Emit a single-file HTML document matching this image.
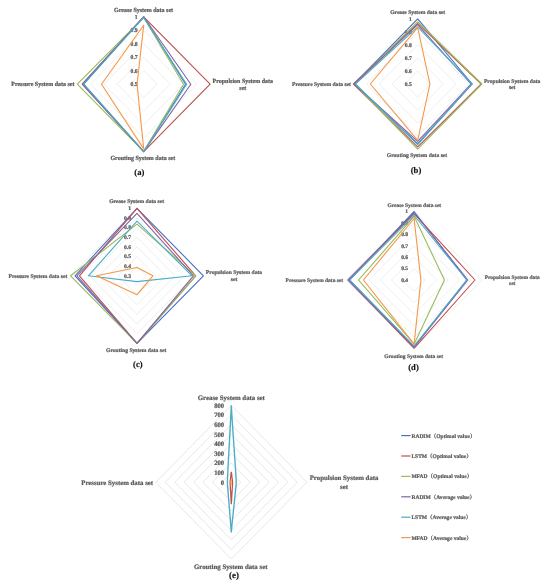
<!DOCTYPE html>
<html lang="en"><head><meta charset="utf-8"><title>Radar charts</title>
<style>
html,body{margin:0;padding:0;background:#fff;}
body{width:550px;height:585px;overflow:hidden;}
svg{display:block;}
svg text{text-rendering:geometricPrecision;stroke:#595959;stroke-width:0.22px;paint-order:stroke;font-family:"Liberation Serif","Noto Serif CJK SC",serif;font-weight:bold;}
</style></head><body>
<svg width="550" height="585" viewBox="0 0 550 585">
<rect width="550" height="585" fill="#fff"/>
<g id="chart-a">
<path d="M143.7 70.72L156.98 84.2L143.7 97.68L130.42 84.2ZM143.7 57.24L170.26 84.2L143.7 111.16L117.14 84.2ZM143.7 43.76L183.54 84.2L143.7 124.64L103.86 84.2ZM143.7 30.28L196.82 84.2L143.7 138.12L90.58 84.2ZM143.7 16.8L210.1 84.2L143.7 151.6L77.3 84.2Z" fill="none" stroke="#e3e3e3" stroke-width="0.6"/>
<text transform="translate(137.7 86.1) scale(1 1.06)" font-size="5.7" text-anchor="end" fill="#595959">0.5</text>
<text transform="translate(137.7 72.62) scale(1 1.06)" font-size="5.7" text-anchor="end" fill="#595959">0.6</text>
<text transform="translate(137.7 59.14) scale(1 1.06)" font-size="5.7" text-anchor="end" fill="#595959">0.7</text>
<text transform="translate(137.7 45.66) scale(1 1.06)" font-size="5.7" text-anchor="end" fill="#595959">0.8</text>
<text transform="translate(137.7 32.18) scale(1 1.06)" font-size="5.7" text-anchor="end" fill="#595959">0.9</text>
<text transform="translate(137.7 18.7) scale(1 1.06)" font-size="5.7" text-anchor="end" fill="#595959">1</text>
<path d="M143.7 16.8L185.53 84.2L143.7 151.6L83.61 84.2Z" fill="none" stroke="#4472C4" stroke-width="1.1" stroke-linejoin="round"/>
<path d="M143.7 16.8L210.1 84.2L143.7 151.6L82.28 84.2Z" fill="none" stroke="#C0504D" stroke-width="1.1" stroke-linejoin="round"/>
<path d="M143.7 17.47L183.54 84.2L143.7 151.6L77.3 84.2Z" fill="none" stroke="#9BBB59" stroke-width="1.1" stroke-linejoin="round"/>
<path d="M143.7 16.8L190.84 84.2L143.7 151.6L82.28 84.2Z" fill="none" stroke="#8064A2" stroke-width="1.1" stroke-linejoin="round"/>
<path d="M143.7 17.47L186.66 84.2L143.7 151.6L83.61 84.2Z" fill="none" stroke="#4BACC6" stroke-width="1.1" stroke-linejoin="round"/>
<path d="M143.7 25.22L137.06 84.2L143.7 148.9L101.54 84.2Z" fill="none" stroke="#F79646" stroke-width="1.1" stroke-linejoin="round"/>
<text transform="translate(143.55 12.4) scale(1 1.06)" font-size="6" text-anchor="middle" fill="#595959">Grease System data set</text>
<text transform="translate(74.5 86.4) scale(1 1.06)" font-size="6" text-anchor="end" fill="#595959">Pressure System data set</text>
<text transform="translate(242.8 82.6) scale(1 1.06)" font-size="6" text-anchor="middle" fill="#595959">Propulsion System data</text>
<text transform="translate(242.8 89.8) scale(1 1.06)" font-size="6" text-anchor="middle" fill="#595959">set</text>
<text transform="translate(142.8 159.9) scale(1 1.06)" font-size="6" text-anchor="middle" fill="#595959">Grouting System data set</text>
<text x="139.3" y="174.8" font-size="8.6" text-anchor="middle" fill="#111" stroke="#111">(a)</text>
</g>
<g id="chart-b">
<path d="M417.7 70.96L430.54 84L417.7 97.04L404.86 84ZM417.7 57.92L443.38 84L417.7 110.08L392.02 84ZM417.7 44.88L456.22 84L417.7 123.12L379.18 84ZM417.7 31.84L469.06 84L417.7 136.16L366.34 84ZM417.7 18.8L481.9 84L417.7 149.2L353.5 84Z" fill="none" stroke="#e3e3e3" stroke-width="0.6"/>
<text x="411.7" y="85.9" font-size="5.6" text-anchor="end" fill="#595959">0.5</text>
<text x="411.7" y="72.86" font-size="5.6" text-anchor="end" fill="#595959">0.6</text>
<text x="411.7" y="59.82" font-size="5.6" text-anchor="end" fill="#595959">0.7</text>
<text x="411.7" y="46.78" font-size="5.6" text-anchor="end" fill="#595959">0.8</text>
<text x="411.7" y="33.74" font-size="5.6" text-anchor="end" fill="#595959">0.9</text>
<text x="411.7" y="20.7" font-size="5.6" text-anchor="end" fill="#595959">1</text>
<path d="M417.7 18.8L472.08 84L417.7 143.66L354.14 84Z" fill="none" stroke="#4472C4" stroke-width="1.1" stroke-linejoin="round"/>
<path d="M417.7 23.36L481.26 84L417.7 146.92L353.5 84Z" fill="none" stroke="#C0504D" stroke-width="1.1" stroke-linejoin="round"/>
<path d="M417.7 21.73L481.9 84L417.7 149.2L354.78 84Z" fill="none" stroke="#9BBB59" stroke-width="1.1" stroke-linejoin="round"/>
<path d="M417.7 24.67L470.99 84L417.7 141.38L354.14 84Z" fill="none" stroke="#8064A2" stroke-width="1.1" stroke-linejoin="round"/>
<path d="M417.7 26.95L472.27 84L417.7 144.64L355.43 84Z" fill="none" stroke="#4BACC6" stroke-width="1.1" stroke-linejoin="round"/>
<path d="M417.7 27.6L429.9 84L417.7 140.4L370.32 84Z" fill="none" stroke="#F79646" stroke-width="1.1" stroke-linejoin="round"/>
<text x="417.7" y="14.4" font-size="5.6" text-anchor="middle" fill="#595959">Grease System data set</text>
<text x="351" y="85.7" font-size="5.6" text-anchor="end" fill="#595959">Pressure System data set</text>
<text x="512.2" y="82.9" font-size="5.6" text-anchor="middle" fill="#595959">Propulsion System data</text>
<text x="512.2" y="89.4" font-size="5.6" text-anchor="middle" fill="#595959">set</text>
<text x="417" y="156.9" font-size="5.6" text-anchor="middle" fill="#595959">Grouting System data set</text>
<text x="416" y="173" font-size="8.6" text-anchor="middle" fill="#111" stroke="#111">(b)</text>
</g>
<g id="chart-c">
<path d="M137 266.16L146.49 275.8L137 285.44L127.51 275.8ZM137 256.51L155.97 275.8L137 295.09L118.03 275.8ZM137 246.87L165.46 275.8L137 304.73L108.54 275.8ZM137 237.23L174.94 275.8L137 314.37L99.06 275.8ZM137 227.59L184.43 275.8L137 324.01L89.57 275.8ZM137 217.94L193.91 275.8L137 333.66L80.09 275.8ZM137 208.3L203.4 275.8L137 343.3L70.6 275.8Z" fill="none" stroke="#e3e3e3" stroke-width="0.6"/>
<text x="131" y="277.7" font-size="5.6" text-anchor="end" fill="#595959">0.3</text>
<text x="131" y="268.06" font-size="5.6" text-anchor="end" fill="#595959">0.4</text>
<text x="131" y="258.41" font-size="5.6" text-anchor="end" fill="#595959">0.5</text>
<text x="131" y="248.77" font-size="5.6" text-anchor="end" fill="#595959">0.6</text>
<text x="131" y="239.13" font-size="5.6" text-anchor="end" fill="#595959">0.7</text>
<text x="131" y="229.49" font-size="5.6" text-anchor="end" fill="#595959">0.8</text>
<text x="131" y="219.84" font-size="5.6" text-anchor="end" fill="#595959">0.9</text>
<text x="131" y="210.2" font-size="5.6" text-anchor="end" fill="#595959">1</text>
<path d="M137 208.3L203.4 275.8L137 343.3L75.05 275.8Z" fill="none" stroke="#4472C4" stroke-width="1.1" stroke-linejoin="round"/>
<path d="M137 208.3L195.76 275.8L137 343.3L79.43 275.8Z" fill="none" stroke="#C0504D" stroke-width="1.1" stroke-linejoin="round"/>
<path d="M137 224.1L195.76 275.8L137 343.3L70.6 275.8Z" fill="none" stroke="#9BBB59" stroke-width="1.1" stroke-linejoin="round"/>
<path d="M137 213.3L193.44 275.8L137 343.3L76.91 275.8Z" fill="none" stroke="#8064A2" stroke-width="1.1" stroke-linejoin="round"/>
<path d="M137 221.19L191.98 275.8L137 281.61L88.33 275.8Z" fill="none" stroke="#4BACC6" stroke-width="1.1" stroke-linejoin="round"/>
<path d="M137 267.5L152.94 275.8L137 294.7L96.5 275.8Z" fill="none" stroke="#F79646" stroke-width="1.1" stroke-linejoin="round"/>
<text x="136.6" y="203.1" font-size="5.58" text-anchor="middle" fill="#595959">Grease System data set</text>
<text x="67.3" y="277.5" font-size="5.58" text-anchor="end" fill="#595959">Pressure System data set</text>
<text x="234" y="274.1" font-size="5.58" text-anchor="middle" fill="#595959">Propulsion System data</text>
<text x="234" y="280.65" font-size="5.58" text-anchor="middle" fill="#595959">set</text>
<text x="136.2" y="351.8" font-size="5.58" text-anchor="middle" fill="#595959">Grouting System data set</text>
<text x="137.8" y="367" font-size="8.6" text-anchor="middle" fill="#111" stroke="#111">(c)</text>
</g>
<g id="chart-d">
<path d="M414.1 268.58L425.43 280L414.1 291.42L402.77 280ZM414.1 257.17L436.77 280L414.1 302.83L391.43 280ZM414.1 245.75L448.1 280L414.1 314.25L380.1 280ZM414.1 234.33L459.43 280L414.1 325.67L368.77 280ZM414.1 222.92L470.77 280L414.1 337.08L357.43 280ZM414.1 211.5L482.1 280L414.1 348.5L346.1 280Z" fill="none" stroke="#e3e3e3" stroke-width="0.6"/>
<text x="408.1" y="281.9" font-size="5.5" text-anchor="end" fill="#595959">0.4</text>
<text x="408.1" y="270.48" font-size="5.5" text-anchor="end" fill="#595959">0.5</text>
<text x="408.1" y="259.07" font-size="5.5" text-anchor="end" fill="#595959">0.6</text>
<text x="408.1" y="247.65" font-size="5.5" text-anchor="end" fill="#595959">0.7</text>
<text x="408.1" y="236.23" font-size="5.5" text-anchor="end" fill="#595959">0.8</text>
<text x="408.1" y="224.82" font-size="5.5" text-anchor="end" fill="#595959">0.9</text>
<text x="408.1" y="213.4" font-size="5.5" text-anchor="end" fill="#595959">1</text>
<path d="M414.1 211.5L466.8 280L414.1 346.58L349.5 280Z" fill="none" stroke="#4472C4" stroke-width="1.1" stroke-linejoin="round"/>
<path d="M414.1 213.56L474.96 280L414.1 348.29L348.14 280Z" fill="none" stroke="#C0504D" stroke-width="1.1" stroke-linejoin="round"/>
<path d="M414.1 216.29L444.43 280L414.1 344.18L358.61 280Z" fill="none" stroke="#9BBB59" stroke-width="1.1" stroke-linejoin="round"/>
<path d="M414.1 212.53L467.82 280L414.1 347.13L348.14 280Z" fill="none" stroke="#8064A2" stroke-width="1.1" stroke-linejoin="round"/>
<path d="M414.1 215.27L466.8 280L414.1 346.1L349.5 280Z" fill="none" stroke="#4BACC6" stroke-width="1.1" stroke-linejoin="round"/>
<path d="M414.1 218.49L420.9 280L414.1 344.18L363.44 280Z" fill="none" stroke="#F79646" stroke-width="1.1" stroke-linejoin="round"/>
<text x="414.3" y="206.7" font-size="5.46" text-anchor="middle" fill="#595959">Grease System data set</text>
<text x="343.1" y="281.7" font-size="5.46" text-anchor="end" fill="#595959">Pressure System data set</text>
<text x="512.2" y="279.1" font-size="5.46" text-anchor="middle" fill="#595959">Propulsion System data</text>
<text x="512.2" y="285.4" font-size="5.46" text-anchor="middle" fill="#595959">set</text>
<text x="413.6" y="357.8" font-size="5.46" text-anchor="middle" fill="#595959">Grouting System data set</text>
<text x="413.5" y="370" font-size="8.6" text-anchor="middle" fill="#111" stroke="#111">(d)</text>
</g>
<g id="chart-e">
<path d="M231.3 472.6L240.74 482.2L231.3 491.8L221.86 482.2ZM231.3 463L250.18 482.2L231.3 501.4L212.43 482.2ZM231.3 453.4L259.61 482.2L231.3 511L202.99 482.2ZM231.3 443.8L269.05 482.2L231.3 520.6L193.55 482.2ZM231.3 434.2L278.49 482.2L231.3 530.2L184.11 482.2ZM231.3 424.6L287.93 482.2L231.3 539.8L174.68 482.2ZM231.3 415L297.36 482.2L231.3 549.4L165.24 482.2ZM231.3 405.4L306.8 482.2L231.3 559L155.8 482.2Z" fill="none" stroke="#dcdcdc" stroke-width="0.7"/>
<text x="224.2" y="484.5" font-size="6.7" text-anchor="end" fill="#595959">0</text>
<text x="224.2" y="474.9" font-size="6.7" text-anchor="end" fill="#595959">100</text>
<text x="224.2" y="465.3" font-size="6.7" text-anchor="end" fill="#595959">200</text>
<text x="224.2" y="455.7" font-size="6.7" text-anchor="end" fill="#595959">300</text>
<text x="224.2" y="446.1" font-size="6.7" text-anchor="end" fill="#595959">400</text>
<text x="224.2" y="436.5" font-size="6.7" text-anchor="end" fill="#595959">500</text>
<text x="224.2" y="426.9" font-size="6.7" text-anchor="end" fill="#595959">600</text>
<text x="224.2" y="417.3" font-size="6.7" text-anchor="end" fill="#595959">700</text>
<text x="224.2" y="407.7" font-size="6.7" text-anchor="end" fill="#595959">800</text>
<path d="M231.3 405.4C232.53 428.44 236.2 475.29 236.2 482.2C236.2 486.72 232.53 517.34 231.3 532.4C230.33 517.34 227.4 486.72 227.4 482.2C227.4 475.29 230.33 428.44 231.3 405.4Z" fill="none" stroke="#4BACC6" stroke-width="1.35"/>
<path d="M231.3 471.8C231.62 474.92 232.6 481.26 232.6 482.2C232.6 484.18 231.62 497.6 231.3 504.2C231 497.6 230.1 484.18 230.1 482.2C230.1 481.26 231 474.92 231.3 471.8Z" fill="none" stroke="#C0504D" stroke-width="1.25"/>
<path d="M231.3 479.2C231.4 480.1 231.7 481.93 231.7 482.2C231.7 482.45 231.4 484.16 231.3 485C231.2 484.16 230.9 482.45 230.9 482.2C230.9 481.93 231.2 480.1 231.3 479.2Z" fill="none" stroke="#F5A83A" stroke-width="0.9"/>
<text x="231.35" y="400.4" font-size="6.82" text-anchor="middle" fill="#595959">Grease System data set</text>
<text x="153.1" y="484.6" font-size="6.82" text-anchor="end" fill="#595959">Pressure System data set</text>
<text x="344.1" y="480.1" font-size="6.82" text-anchor="middle" fill="#595959">Propulsion System data</text>
<text x="344.1" y="488.6" font-size="6.82" text-anchor="middle" fill="#595959">set</text>
<text x="230.7" y="568.7" font-size="6.82" text-anchor="middle" fill="#595959">Grouting System data set</text>
<text x="233.9" y="577.9" font-size="9" text-anchor="middle" fill="#111" stroke="#111">(e)</text>
</g>
<g id="legend">
<line x1="401.2" y1="435.6" x2="410.6" y2="435.6" stroke="#4472C4" stroke-width="1.2"/>
<text x="411.4" y="437.6" font-size="5.54" text-anchor="start" fill="#595959">RADIM（Optimal value）</text>
<line x1="401.2" y1="456" x2="410.6" y2="456" stroke="#C0504D" stroke-width="1.2"/>
<text x="411.4" y="458" font-size="5.54" text-anchor="start" fill="#595959">LSTM（Optimal value）</text>
<line x1="401.2" y1="476.4" x2="410.6" y2="476.4" stroke="#9BBB59" stroke-width="1.2"/>
<text x="411.4" y="478.4" font-size="5.54" text-anchor="start" fill="#595959">MFAD（Optimal value）</text>
<line x1="401.2" y1="496.8" x2="410.6" y2="496.8" stroke="#8064A2" stroke-width="1.2"/>
<text x="411.4" y="498.8" font-size="5.54" text-anchor="start" fill="#595959">RADIM（Average value）</text>
<line x1="401.2" y1="517.2" x2="410.6" y2="517.2" stroke="#4BACC6" stroke-width="1.2"/>
<text x="411.4" y="519.2" font-size="5.54" text-anchor="start" fill="#595959">LSTM（Average value）</text>
<line x1="401.2" y1="537.6" x2="410.6" y2="537.6" stroke="#F79646" stroke-width="1.2"/>
<text x="411.4" y="539.6" font-size="5.54" text-anchor="start" fill="#595959">MFAD（Average value）</text>
</g>
</svg>
</body></html>
